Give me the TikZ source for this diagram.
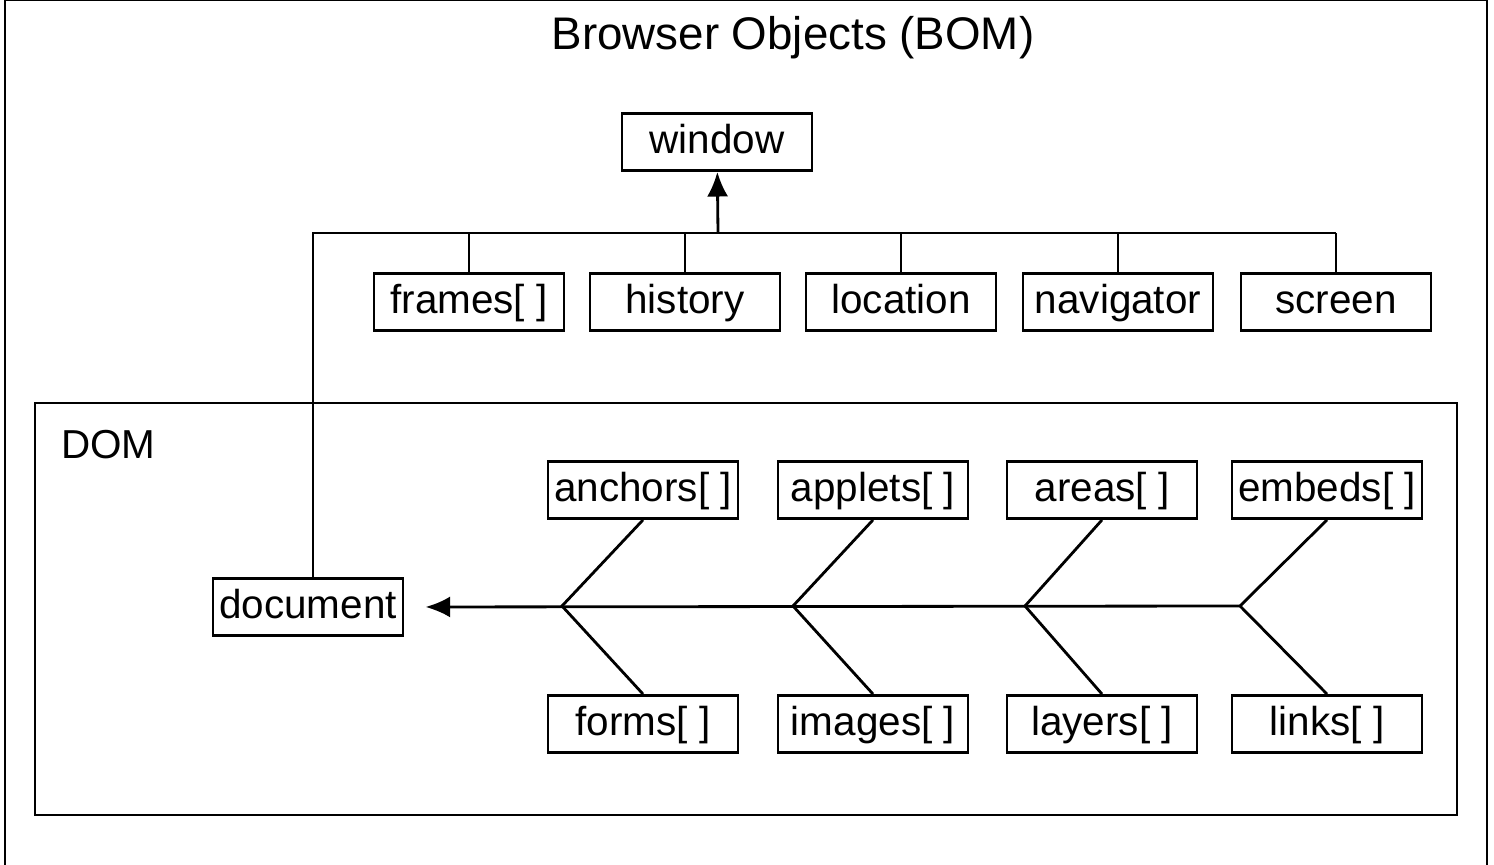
\documentclass[tikz,border=0pt]{standalone}
\usepackage{fontspec}
\usetikzlibrary{arrows.meta}
\setmainfont{Liberation Sans}
\tikzset{obj/.style={draw,thick,minimum width=1.9cm,minimum height=0.57cm,inner sep=0pt,text height=1.6ex,text depth=0.4ex,font=\fontsize{11.5}{12}\selectfont}}
\begin{document}
\begin{tikzpicture}[x=0.01cm,y=-0.01cm,thick,>={Latex[length=7pt,width=6pt]}]
\useasboundingbox (0,0) rectangle (1494,865);
\draw (5,0) -- (1487,0) -- (1487,865);
\draw (5,0) -- (5,865);
\node[font=\fontsize{13}{14}\selectfont] (title) at (793,38) {Browser Objects (BOM)};
\node[obj] (window) at (717,142) {window};

    \node[obj] (frames) at (469,302) {frames[ ]};
    \node[obj] (history) at (685,302) {history};
    \node[obj] (location) at (901,302) {location};
    \node[obj] (navigator) at (1118,302) {navigator};
    \node[obj] (screen) at (1336,302) {screen};

\draw (35,403) rectangle (1457,815);
\node[anchor=west,font=\fontsize{11.5}{12}\selectfont] (dom) at (48,445) {DOM};
\node[obj] (document) at (308,607) {document};

    \node[obj] (anchors) at (643,490) {anchors[ ]};
    \node[obj] (applets) at (873,490) {applets[ ]};
    \node[obj] (areas) at (1102,490) {areas[ ]};
    \node[obj] (embeds) at (1327,490) {embeds[ ]};
    \node[obj] (forms) at (643,724) {forms[ ]};
    \node[obj] (images) at (873,724) {images[ ]};
    \node[obj] (layers) at (1102,724) {layers[ ]};
    \node[obj] (links) at (1327,724) {links[ ]};

\coordinate (bus) at (718,233);
\draw[->] (bus) -- (window);
\draw (document.north -| 313,0) -- (313,233) -- (1336,233);
\foreach \n in {frames,history,location,navigator,screen}
    \draw (\n.north) -- (\n.north |- bus);

\coordinate (j1) at (562,606);
\coordinate (j2) at (793,606);
\coordinate (j3) at (1025,606);
\coordinate (j4) at (1240,606);
\draw[->] (j4) -- ([xshift=6pt]document.east);
\draw (anchors.south) -- (j1) -- (forms.north);
\draw (applets.south) -- (j2) -- (images.north);
\draw (areas.south) -- (j3) -- (layers.north);
\draw (embeds.south) -- (j4) -- (links.north);
\end{tikzpicture}
\end{document}
